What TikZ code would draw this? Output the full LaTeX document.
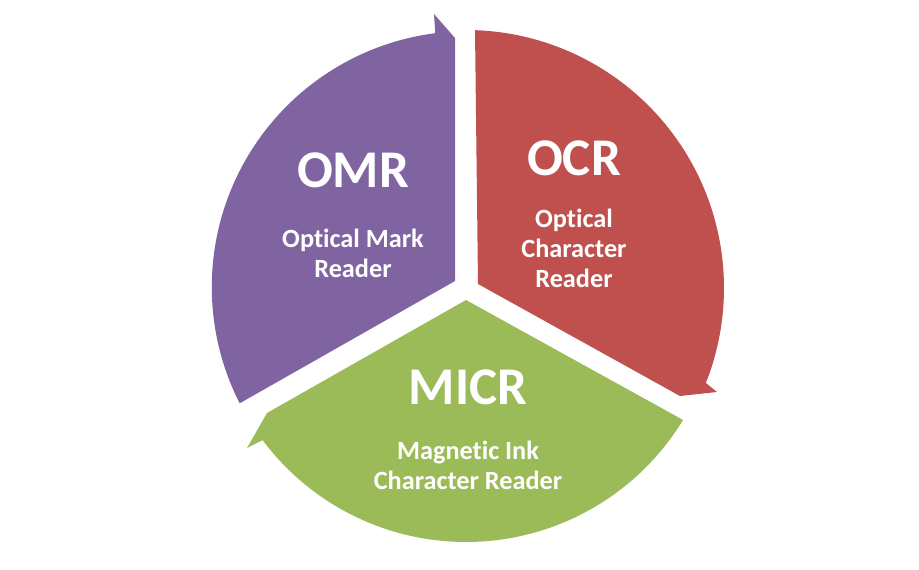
\documentclass[tikz,border=0pt]{standalone}
\usepackage{fontspec}
\setmainfont{Carlito}[Ligatures=NoCommon]
\usetikzlibrary{calc}
\definecolor{cpur}{HTML}{8064A2}
\definecolor{cred}{HTML}{C0504D}
\definecolor{cgrn}{HTML}{9BBB59}
\begin{document}
\begin{tikzpicture}[x=1pt,y=-1pt,
  big/.style={text=white,font=\bfseries\fontsize{53}{55}\selectfont},
  small/.style={text=white,font=\bfseries\fontsize{26.3}{30}\selectfont,align=center}]
\useasboundingbox (0,0) rectangle (919,570);
\coordinate (c) at (466,288);
% red
\coordinate (ra) at (478,284);
\coordinate (rt) at (717,392);
\coordinate (rb) at (680,396);
\fill[cred] (ra) -- ($(c)+(88:258pt)$) arc[start angle=88,end angle=-21.6,radius=258pt] -- (rt) -- (rb) -- cycle;
% green
\coordinate (ga) at (466,300);
\coordinate (gt) at (247,448);
\coordinate (gi) at (267,413);
\fill[cgrn] (ga) -- ($(c)+(-31.3:254pt)$) arc[start angle=-31.3,end angle=-143.2,radius=254pt] -- (gt) -- (gi) -- cycle;
% purple
\coordinate (pa) at (455,281);
\coordinate (pt) at (434,14);
\coordinate (pb) at (455,38);
\fill[cpur] (pa) -- ($(c)+(207:254pt)$) arc[start angle=207,end angle=97.3,radius=256pt] -- (pt) -- (pb) -- cycle;
% texts
\node[big] (omr) at (353,170) {OMR};
\node[small] (omrs) at (353,253) {Optical Mark\\Reader};
\node[big] (ocr) at (574,158) {OCR};
\node[small] (ocrs) at (574,248) {Optical\\Character\\Reader};
\node[big] (micr) at (468,387) {MICR};
\node[small] (micrs) at (468,465) {Magnetic Ink\\Character Reader};
\end{tikzpicture}
\end{document}
